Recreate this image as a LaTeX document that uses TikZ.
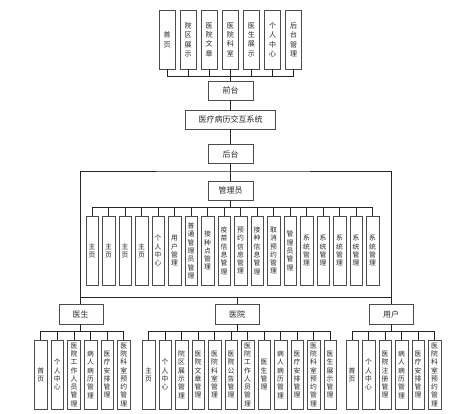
\documentclass[tikz,border=0pt]{standalone}
\usepackage{fontspec}
\setmainfont{Noto Sans CJK SC}
\makeatletter
% stack the characters of a label one under the other
\newcommand\shu[1]{\edef\shu@arg{#1}\expandafter\shu@go\expandafter{\shu@arg}\shu@out}
\newcommand\shu@go[1]{\def\shu@out{}\@tfor\shu@c:=#1\do{%
  \ifx\shu@out\@empty\edef\shu@out{\shu@c}%
  \else\edef\shu@out{\unexpanded\expandafter{\shu@out}\noexpand\\\shu@c}\fi}}
\makeatother
\tikzset{
  box/.style={draw=black!70, fill=white, text=black!85, minimum width=45pt,
    minimum height=19pt, inner sep=0pt, font=\fontsize{8}{9}\selectfont},
  vbox/.style={draw=black!70, fill=white, text=black!85, minimum width=12.5pt,
    minimum height=69pt, inner sep=0pt, align=center, anchor=north,
    font=\fontsize{6.8}{8.3}\selectfont},
  line/.style={draw=black!85, line width=0.7pt}
}
\begin{document}
\begin{tikzpicture}[x=1pt,y=-1pt]
\useasboundingbox[fill=white] (0,0) rectangle (474,414);
% front pages
\foreach \t [count=\i] in {首页,院区展示,医院文章,医院科室,医生展示,个人中心,后台管理}
{
\node[vbox, minimum width=16pt, minimum height=59pt, font=\fontsize{7}{9.3}\selectfont]
  (t\i) at ({167+21.1*(\i-1)},10) {\shu{\t}};
}
\node[box] (qiantai) at (230.5,90.5) {前台};
\node[box, minimum width=90pt, minimum height=18.5pt] (xitong) at (230.5,119.5) {医疗病历交互系统};
\node[box] (houtai) at (230.5,154) {后台};
\node[box] (guanli) at (230.5,190.5) {管理员};
\node[box, minimum width=44pt, minimum height=20pt] (yisheng) at (80.7,314) {医生};
\node[box, minimum width=44pt, minimum height=20pt] (yiyuan) at (237,314) {医院};
\node[box, minimum width=44pt, minimum height=20pt] (yonghu) at (391,314) {用户};
% admin
\foreach \t [count=\i] in {主页,主页,主页,主页,个人中心,用户管理,普通管理员管理,接种点管理,
  疫苗信息管理,预约信息管理,接种信息管理,取消预约管理,管理员管理,系统管理,系统管理,
  系统管理,系统管理,系统管理}
{
\node[vbox] (a\i) at ({92+16.5*(\i-1)},216) {\shu{\t}};
\draw[line] (guanli.south) -- ++(0,6.7) -| (a\i.north);
}
% doctor
\foreach \t [count=\i] in {首页,个人中心,医院工作人员管理,病人病历管理,医疗安排管理,医院科室预约管理}
{
\node[vbox] (d\i) at ({40.7+16.6*(\i-1)},340) {\shu{\t}};
\draw[line] (yisheng.south) -- ++(0,7) -| (d\i.north);
}
% hospital
\foreach \t [count=\i] in {主页,个人中心,院区展示管理,医院文章管理,医院科室管理,医院公告管理,
  医院工作人员管理,医生管理,病人病历管理,医疗安排管理,医院科室预约管理,医生展示管理}
{
\node[vbox] (h\i) at ({148.5+16.5*(\i-1)},340) {\shu{\t}};
\draw[line] (yiyuan.south) -- ++(0,7) -| (h\i.north);
}
% user
\foreach \t [count=\i] in {首页,个人中心,医院注册管理,病人病历管理,医疗安排管理,医院科室预约管理}
{
\node[vbox] (u\i) at ({352+16.5*(\i-1)},340) {\shu{\t}};
\draw[line] (yonghu.south) -- ++(0,7) -| (u\i.north);
}
\foreach \i in {1,...,7}
{
\draw[line] (qiantai.north) -- ++(0,-4) -| (t\i.south);
}
\draw[line] (qiantai) -- (xitong);
\draw[line] (xitong) -- (houtai);
\draw[line] (houtai) -- (guanli);
\coordinate (fen) at (230.5,171);
\coordinate (he) at (237,297);
\draw[line] (yisheng.north) |- (fen) -| (yonghu.north);
\draw[line] (yiyuan.north) -- (he);
\draw[line] (yisheng.north |- he) -- (yonghu.north |- he);
\end{tikzpicture}
\end{document}
